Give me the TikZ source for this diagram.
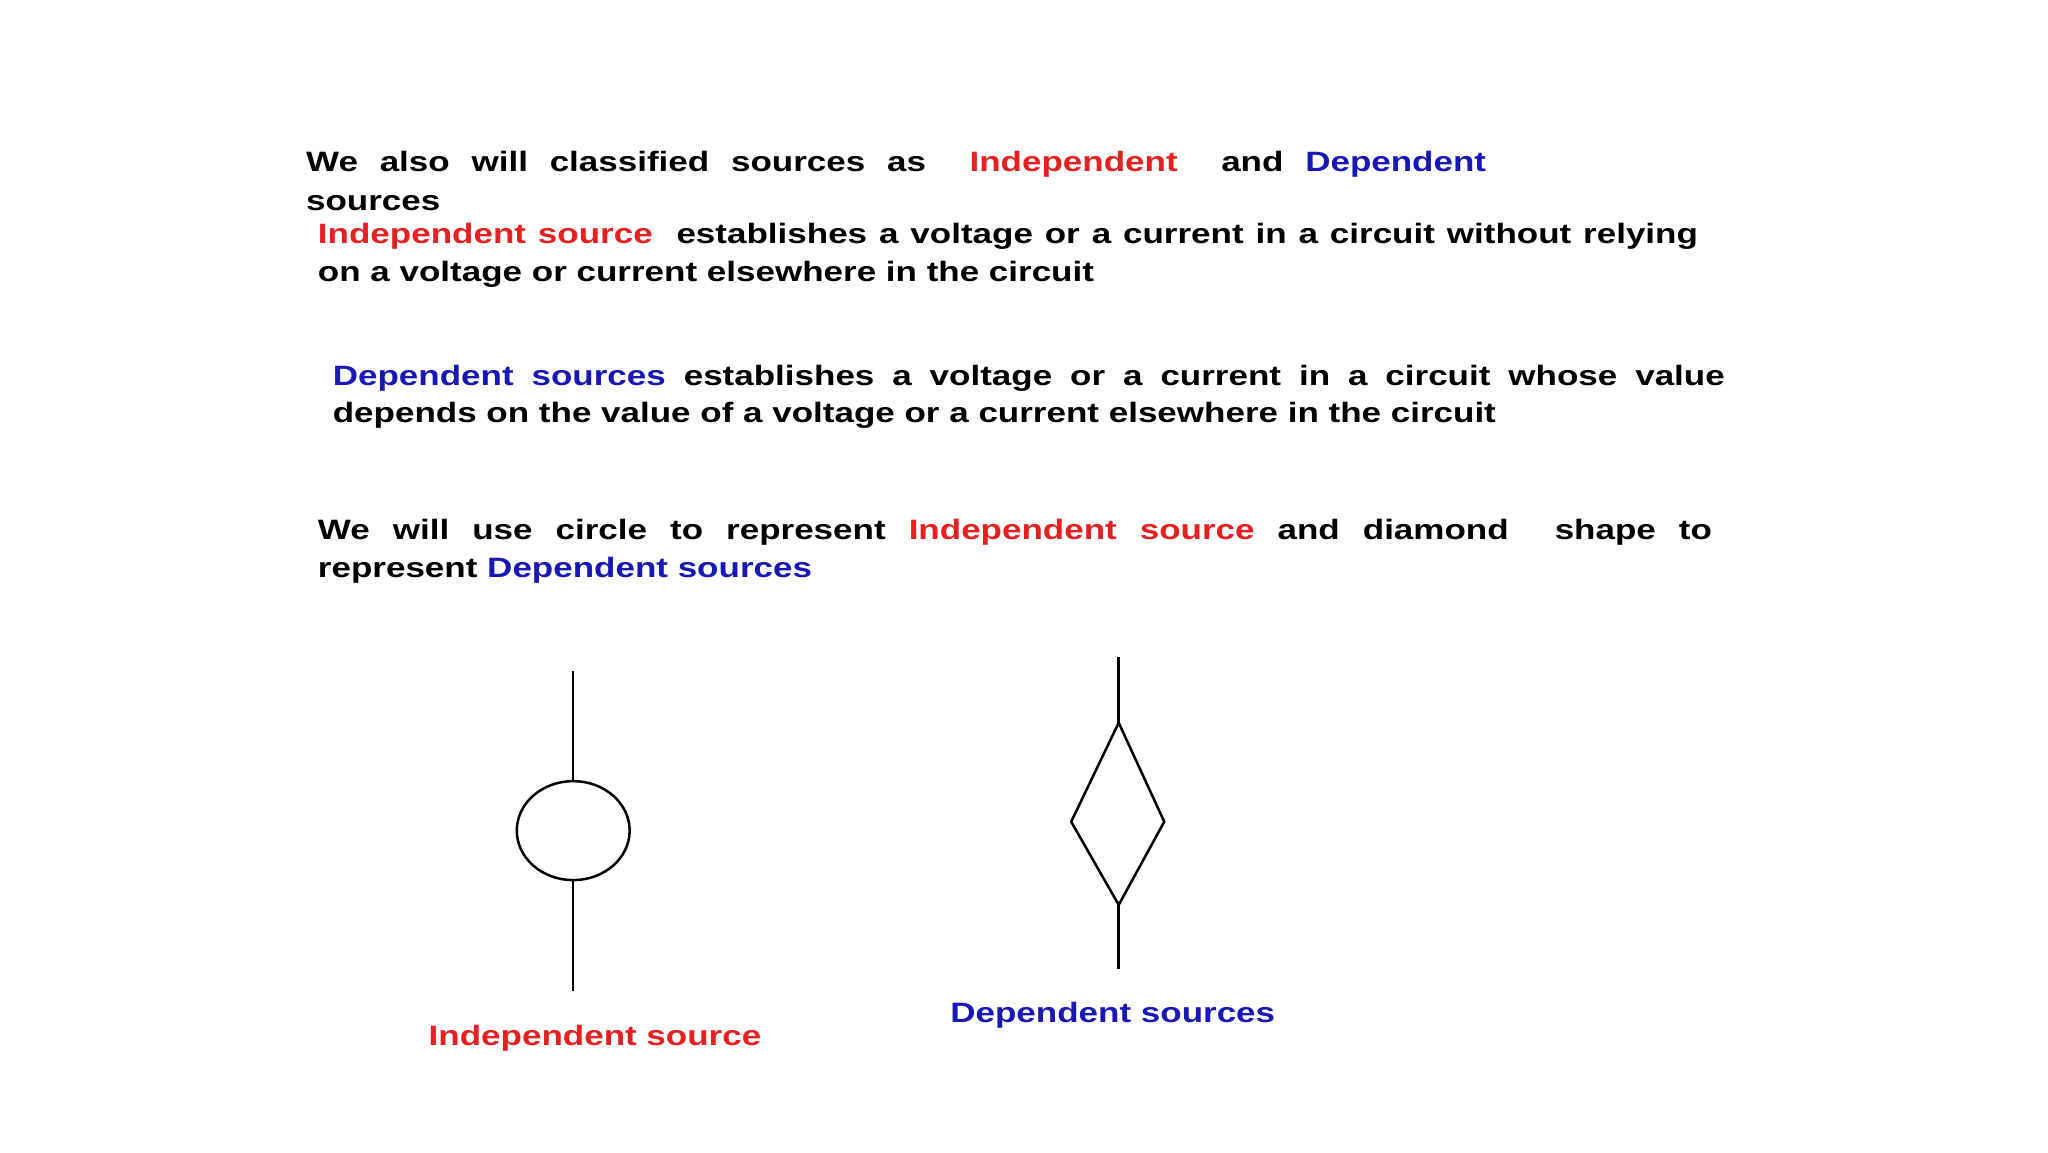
\documentclass[tikz,border=0pt]{standalone}
\usepackage{fontspec}
\setmainfont[FakeStretch=1.25]{Liberation Sans}
\definecolor{rd}{RGB}{228,32,32}
\definecolor{bl}{RGB}{24,24,180}
\newcommand{\R}[1]{\textcolor{rd}{#1}}
\newcommand{\B}[1]{\textcolor{bl}{#1}}
\begin{document}
\begin{tikzpicture}[x=0.99pt,y=-0.99pt,
  txt/.style={anchor=west,inner sep=0pt,font=\fontsize{28}{34}\selectfont\bfseries},
  wire/.style={line width=2.5pt}]
\useasboundingbox (0pt,0pt) rectangle (2048pt,-1152pt);
\node[txt] (l1) at (309,166) {\makebox[1180pt][s]{We also will classified sources as \ \R{Independent} \ and \B{Dependent}}};
\node[txt] (l2) at (309,205) {sources};
\node[txt] (l3) at (321,239) {\makebox[1380pt][s]{\R{Independent source} \ establishes a voltage or a current in a circuit without relying}};
\node[txt] (l4) at (321,277) {on a voltage or current elsewhere in the circuit};
\node[txt] (l5) at (336,382) {\makebox[1392pt][s]{\B{Dependent sources} establishes a voltage or a current in a circuit whose value}};
\node[txt] (l6) at (336,420) {depends on the value of a voltage or a current elsewhere in the circuit};
\node[txt] (l7) at (321,538) {\makebox[1394pt][s]{We will use circle to represent \R{Independent source} and diamond \ shape to}};
\node[txt] (l8) at (321,576) {represent \B{Dependent sources}};
% circle source
\draw[wire] (579,839) ellipse [x radius=57, y radius=50];
\coordinate (ct) at (579,678); \coordinate (cb) at (579,1001);
\coordinate (cit) at (579,789); \coordinate (cib) at (579,889);
\draw[wire] (ct) -- (cit);
\draw[wire] (cib) -- (cb);
\node[txt,anchor=center,text=rd] (li) at (601,1049) {Independent source};
% diamond source
\coordinate (dt) at (1130,730); \coordinate (dr) at (1176,830);
\coordinate (db) at (1130,914); \coordinate (dl) at (1082,830);
\draw[wire,line join=miter] (dt) -- (dr) -- (db) -- (dl) -- cycle;
\coordinate (dtt) at (1130,664); \coordinate (dbb) at (1130,979);
\draw[wire] (dtt) -- (dt);
\draw[wire] (db) -- (dbb);
\node[txt,anchor=center,text=bl] (ld) at (1124,1025) {Dependent sources};
\end{tikzpicture}
\end{document}
